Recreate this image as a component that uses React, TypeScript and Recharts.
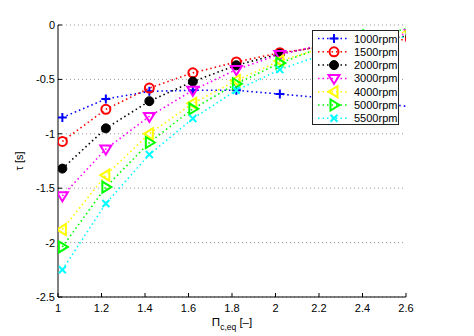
import React from 'react';
import {
  LineChart,
  Line,
  XAxis,
  YAxis,
  CartesianGrid,
} from 'recharts';

const PI_C = [1.02, 1.22, 1.42, 1.62, 1.82, 2.02, 2.22, 2.42, 2.62];

const RPM_1000 = [-0.85, -0.68, -0.61, -0.6, -0.6, -0.635, -0.67, -0.71, -0.75];
const RPM_1500 = [-1.07, -0.775, -0.58, -0.44, -0.34, -0.255, -0.2, -0.16, -0.13];
const RPM_2000 = [-1.32, -0.95, -0.7, -0.52, -0.37, -0.265, -0.19, -0.14, -0.1];
const RPM_3000 = [-1.57, -1.14, -0.84, -0.6, -0.41, -0.27, -0.18, -0.12, -0.08];
const RPM_4000 = [-1.88, -1.38, -1.0, -0.72, -0.51, -0.33, -0.21, -0.12, -0.06];
const RPM_5000 = [-2.04, -1.49, -1.08, -0.77, -0.54, -0.35, -0.2, -0.1, -0.03];
const RPM_5500 = [-2.25, -1.64, -1.19, -0.86, -0.6, -0.41, -0.27, -0.17, -0.1];

const X_TICKS = [1, 1.2, 1.4, 1.6, 1.8, 2, 2.2, 2.4, 2.6];
const Y_TICKS = [0, -0.5, -1, -1.5, -2, -2.5];

type MarkerKind = 'plus' | 'circle' | 'dot' | 'down' | 'left' | 'right' | 'cross';

const SERIES: { key: string; name: string; color: string; marker: MarkerKind; values: number[] }[] = [
  { key: 'r1000', name: '1000rpm', color: '#0000ff', marker: 'plus', values: RPM_1000 },
  { key: 'r1500', name: '1500rpm', color: '#ff0000', marker: 'circle', values: RPM_1500 },
  { key: 'r2000', name: '2000rpm', color: '#000000', marker: 'dot', values: RPM_2000 },
  { key: 'r3000', name: '3000rpm', color: '#ff00ff', marker: 'down', values: RPM_3000 },
  { key: 'r4000', name: '4000rpm', color: '#ffff00', marker: 'left', values: RPM_4000 },
  { key: 'r5000', name: '5000rpm', color: '#00ff00', marker: 'right', values: RPM_5000 },
  { key: 'r5500', name: '5500rpm', color: '#00ffff', marker: 'cross', values: RPM_5500 },
];

const data = PI_C.map((x, i) => ({
  x,
  ...Object.fromEntries(SERIES.map((s) => [s.key, s.values[i]])),
}));

const FONT = '"Liberation Sans", Arial, sans-serif';

function Marker({ kind, x, y, color }: { kind: MarkerKind; x: number; y: number; color: string }) {
  const s = 4.5;
  const common = { stroke: color, strokeWidth: 2, fill: 'none' };
  switch (kind) {
    case 'plus':
      return <path d={`M${x - s},${y}H${x + s}M${x},${y - s}V${y + s}`} {...common} />;
    case 'circle':
      return <circle cx={x} cy={y} r={s} {...common} />;
    case 'dot':
      return <circle cx={x} cy={y} r={s} fill={color} stroke={color} />;
    case 'down':
      return <path d={`M${x - s - 1},${y - s + 1}L${x + s + 1},${y - s + 1}L${x},${y + s + 1}Z`} {...common} />;
    case 'left':
      return <path d={`M${x - s - 1},${y}L${x + s - 1},${y - s - 1}L${x + s - 1},${y + s + 1}Z`} {...common} />;
    case 'right':
      return <path d={`M${x + s + 1},${y}L${x - s + 1},${y - s - 1}L${x - s + 1},${y + s + 1}Z`} {...common} />;
    case 'cross':
      return <path d={`M${x - 3.5},${y - 3.5}L${x + 3.5},${y + 3.5}M${x - 3.5},${y + 3.5}L${x + 3.5},${y - 3.5}`} {...common} />;
  }
  return null;
}

function LegendBox() {
  const rowH = 13.3;
  return (
    <div
      style={{
        position: 'absolute',
        left: 312,
        top: 30,
        width: 87,
        height: 95,
        border: '1px solid #222',
        background: '#fff',
        boxSizing: 'border-box',
      }}
    >
      <svg width={85} height={93} style={{ display: 'block' }}>
        {SERIES.map((s, i) => {
          const cy = 7.5 + i * rowH;
          return (
            <g key={s.key}>
              <line x1={5} x2={36} y1={cy} y2={cy} stroke={s.color} strokeWidth={1.5} strokeDasharray="1.5 3" />
              <Marker kind={s.marker} x={21} y={cy} color={s.color} />
              <text x={41} y={cy + 4} fontSize={11} fontFamily={FONT} fill="#000">
                {s.name}
              </text>
            </g>
          );
        })}
      </svg>
    </div>
  );
}

export default function App() {
  return (
    <div style={{ position: 'absolute', left: 0, top: 0, width: 474, height: 336, background: '#fff' }}>
      <LineChart width={474} height={336} data={data} margin={{ top: 25, right: 68, bottom: 0, left: 8 }}>
        <CartesianGrid vertical={false} stroke="#999" strokeDasharray="1 3" />
        <XAxis
          dataKey="x"
          type="number"
          domain={[1, 2.6]}
          ticks={X_TICKS}
          allowDataOverflow
          height={39}
          stroke="#000"
          tickSize={-4}
          tickMargin={11}
          tick={{ fontSize: 11, fill: '#000', fontFamily: FONT }}
          label={{
            content: (props: any) => {
              const vb = props.viewBox;
              return (
                <text x={vb.x + vb.width / 2} y={vb.y + 29} textAnchor="middle" fontSize={11.5} fontFamily={FONT}>
                  Π
                  <tspan fontSize={8.5} dy={4}>c,eq</tspan>
                  <tspan dy={-4}> [–]</tspan>
                </text>
              );
            },
          }}
        />
        <YAxis
          type="number"
          domain={[-2.5, 0]}
          ticks={Y_TICKS}
          allowDataOverflow
          width={50}
          stroke="#000"
          tickSize={-4}
          tickMargin={7}
          tick={{ fontSize: 11, fill: '#000', fontFamily: FONT }}
          label={{
            content: (props: any) => {
              const vb = props.viewBox;
              const cx = 23;
              const cy = vb.y + vb.height / 2;
              return (
                <text x={cx} y={cy} textAnchor="middle" fontSize={11} fontFamily={FONT} transform={`rotate(-90 ${cx} ${cy})`}>
                  τ [s]
                </text>
              );
            },
          }}
        />
        {SERIES.map((s) => (
          <Line
            key={s.key}
            dataKey={s.key}
            name={s.name}
            type="linear"
            stroke={s.color}
            strokeWidth={1.6}
            strokeDasharray="1.5 3"
            isAnimationActive={false}
            dot={(p: any) => <Marker key={`${s.key}-${p.index}`} kind={s.marker} x={p.cx} y={p.cy} color={s.color} />}
            activeDot={false}
          />
        ))}
      </LineChart>
      <LegendBox />
    </div>
  );
}
